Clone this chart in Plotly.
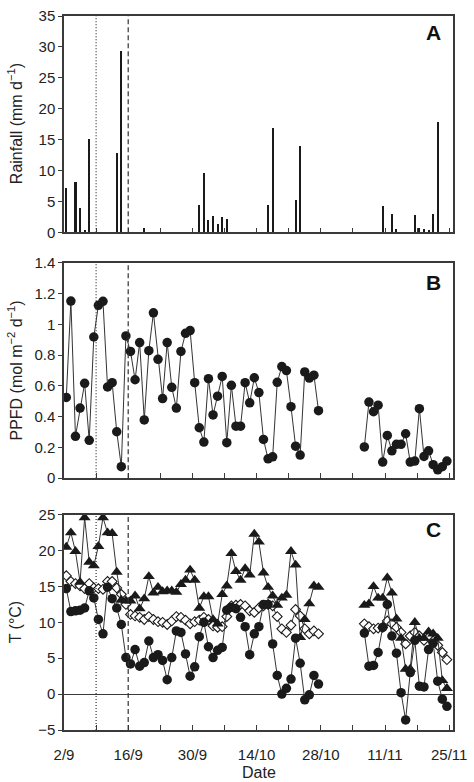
import plotly.graph_objects as go

# ---------------- data ----------------
# day index: 0 = 2 September ... 84 = 25 November
tick_days = [0, 14, 28, 42, 56, 70, 84]
tick_labels = ["2/9", "16/9", "30/9", "14/10", "28/10", "11/11", "25/11"]
event_days = [7, 14]          # dotted, dashed reference dates

rain_days = [0, 2, 3, 4, 5, 11, 12, 17, 29, 30, 31, 32, 33, 34, 35,
             44, 45, 50, 51, 69, 71, 72, 76, 77, 78, 79, 80, 81]
rain_mm = [7.2, 8.1, 3.9, 0.4, 15.1, 12.9, 29.3, 0.7, 4.4, 9.6, 2.0, 2.7, 1.4, 2.5, 2.2,
           4.4, 16.8, 5.3, 13.9, 4.2, 3.0, 0.6, 2.8, 0.7, 0.6, 0.4, 3.0, 17.8]

ppfd_1 = [0.525, 1.152, 0.272, 0.456, 0.617, 0.246, 0.918, 1.124, 1.15, 0.593,
          0.621, 0.302, 0.075, 0.925, 0.824, 0.640, 0.882, 0.379, 0.829, 1.075,
          0.773, 0.518, 0.882, 0.591, 0.456, 0.824, 0.942, 0.960, 0.621, 0.328,
          0.235, 0.647, 0.411, 0.533, 0.662, 0.231, 0.604, 0.338, 0.338, 0.621,
          0.490, 0.653, 0.557, 0.252, 0.126, 0.139, 0.623, 0.726, 0.700, 0.465,
          0.208, 0.150, 0.691, 0.651, 0.670, 0.439]
ppfd_2 = [0.203, 0.495, 0.432, 0.475, 0.105, 0.278, 0.178, 0.220, 0.220, 0.289,
          0.105, 0.111, 0.452, 0.141, 0.178, 0.088, 0.054, 0.075, 0.111]

tmax_1 = [20.5, 22.5, 19.9, 15.6, 24.6, 18.4, 17.9, 20.6, 24.6, 22.5,
          22.4, 17.0, 13.1, 13.0, 13.0, 13.7, 11.9, 13.3, 16.4, 14.1,
          14.9, 14.3, 14.4, 14.4, 14.2, 15.3, 15.9, 17.3, 15.9, 12.0,
          13.6, 13.6, 10.4, 9.8, 13.9, 15.1, 19.6, 17.1, 15.9, 17.5,
          16.6, 22.3, 21.2, 16.9, 14.9, 13.7, 12.4, 13.4, 13.8, 19.9,
          18.0, 7.9, 10.4, 12.6, 15.1, 14.9]
tmax_2 = [12.4, 12.6, 15.0, 13.4, 13.4, 16.2, 14.1, 10.5, 7.8, 3.5,
          3.5, 10.0, 7.8, 7.8, 8.7, 8.4, 7.8, 1.9, 0.8]

tmin_1 = [14.7, 11.5, 11.6, 11.7, 12.0, 14.4, 13.4, 10.4, 8.4, 14.9,
          13.3, 12.0, 9.7, 5.1, 4.2, 6.2, 3.9, 4.4, 7.4, 5.1,
          5.5, 4.7, 2.0, 5.1, 8.8, 8.6, 5.6, 2.5, 3.8, 8.0,
          10.0, 6.6, 5.1, 6.1, 6.5, 11.7, 12.1, 11.9, 10.7, 9.4,
          5.5, 8.4, 9.4, 12.5, 12.5, 7.0, 2.6, 0.0, 0.8, 2.1,
          7.8, 4.3, -0.8, -0.1, 2.6, 1.4]
tmin_2 = [8.5, 3.9, 4.0, 5.8, 9.3, 12.5, 8.1, 5.7, 0.2, -3.6,
          3.0, 7.5, 1.1, 1.0, 6.2, 7.1, 1.8, -0.7, -1.7]

tsoil_1 = [16.5, 15.7, 15.4, 15.1, 14.7, 15.4, 14.8, 14.7, 14.6, 15.7,
           15.7, 14.8, 13.9, 12.5, 11.1, 10.9, 10.7, 10.4, 10.8, 10.4,
           10.1, 10.0, 9.7, 10.2, 10.8, 10.7, 10.3, 9.8, 10.1, 10.3,
           10.7, 10.4, 9.5, 9.3, 9.4, 10.8, 12.3, 12.4, 12.5, 12.3,
           11.6, 11.4, 12.0, 12.3, 12.5, 12.3, 10.8, 9.1, 8.6, 9.6,
           11.8, 10.9, 9.1, 8.4, 8.8, 8.4]
tsoil_2 = [9.8, 9.4, 9.1, 9.2, 9.3, 10.2, 9.8, 9.3, 8.6, 7.0,
           8.1, 8.6, 8.1, 7.5, 7.9, 7.4, 6.8, 5.8, 4.8]

GAP = 9  # days without records (56-64)


def full(a, b):
    return a + [None] * GAP + b


n_days = len(ppfd_1) + GAP + len(ppfd_2)
x_mid = [d + 0.5 for d in range(n_days)]      # daily values at mid-day
rain_x = [d + 0.5 for d in rain_days]

# ---------------- styling ----------------
FONT = "Arial, Liberation Sans, sans-serif"
INK = "#1a1a1a"
AX = "#3a3a3a"
L, R, T, B = 64, 13, 7, 52
W, H = 474, 782
PH = H - T - B
TICK_FONT = dict(size=15, color="#222", family=FONT)


def dom(top_px, bot_px):
    return [1 - (bot_px - T) / PH, 1 - (top_px - T) / PH]


fig = go.Figure()

fig.add_trace(go.Bar(x=rain_x, y=rain_mm, width=0.45, marker=dict(color=INK, line=dict(width=0)),
                     xaxis="x", yaxis="y", showlegend=False))

line_style = dict(color="#333333", width=1)
fig.add_trace(go.Scatter(x=x_mid, y=full(ppfd_1, ppfd_2), mode="lines+markers",
                         line=line_style, marker=dict(symbol="circle", size=9.5, color=INK),
                         xaxis="x2", yaxis="y2", showlegend=False))

fig.add_trace(go.Scatter(x=x_mid, y=full(tsoil_1, tsoil_2), mode="lines+markers",
                         line=line_style,
                         marker=dict(symbol="diamond", size=7.5, color="white", line=dict(color=INK, width=1.1)),
                         xaxis="x3", yaxis="y3", showlegend=False))
fig.add_trace(go.Scatter(x=x_mid, y=full(tmax_1, tmax_2), mode="lines+markers",
                         line=line_style, marker=dict(symbol="triangle-up", size=10.5, color=INK),
                         xaxis="x3", yaxis="y3", showlegend=False))
fig.add_trace(go.Scatter(x=x_mid, y=full(tmin_1, tmin_2), mode="lines+markers",
                         line=line_style, marker=dict(symbol="circle", size=9.5, color=INK),
                         xaxis="x3", yaxis="y3", showlegend=False))

xr = [0, (W - R - L) / 4.68]
week_ticks = dict(tick0=0, dtick=7, ticks="inside", ticklen=5, tickwidth=1.2, tickcolor=AX, showgrid=False)
xt = dict(range=xr, tickvals=tick_days, ticks="inside", ticklen=5, tickwidth=1.2, tickcolor=AX,
          minor=week_ticks,
          showline=True, mirror=True, linecolor=AX, linewidth=1.5, showgrid=False, zeroline=False,
          fixedrange=True)
yt = dict(ticks="outside", ticklen=4, tickwidth=1.2, tickcolor=AX, showline=True, mirror=True,
          linecolor=AX, linewidth=1.5, showgrid=False, tickfont=TICK_FONT)

fig.update_layout(
    width=W, height=H, margin=dict(l=L, r=R, t=T, b=B),
    paper_bgcolor="white", plot_bgcolor="white",
    font=dict(family=FONT, color="#222"),
    bargap=0,
    xaxis=dict(xt, anchor="y", showticklabels=False),
    xaxis2=dict(xt, anchor="y2", showticklabels=False),
    xaxis3=dict(xt, anchor="y3", ticktext=tick_labels, showticklabels=True,
                tickfont=TICK_FONT, ticklabelstandoff=10, ticklabeloverflow="allow"),
    yaxis=dict(yt, domain=dom(7, 226), range=[0, 35], dtick=5, zeroline=False, anchor="x"),
    yaxis2=dict(yt, domain=dom(257, 475), range=[0, 1.4], dtick=0.2, zeroline=False, anchor="x2"),
    yaxis3=dict(yt, domain=dom(512, 730), range=[-5, 25], dtick=5, zeroline=True,
                zerolinecolor=AX, zerolinewidth=1.2, anchor="x3"),
)

shapes = []
for xa, ya in (("x", "y"), ("x2", "y2"), ("x3", "y3")):
    for d, dash in zip(event_days, ["1px,2px", "5px,3px"]):
        shapes.append(dict(type="line", xref=xa, yref=ya + " domain", x0=d, x1=d, y0=0, y1=1,
                           line=dict(color="#333", width=1.2, dash=dash)))
fig.update_layout(shapes=shapes)

ann = []
for ya, letter, yy in (("y", "A", 0.922), ("y2", "B", 0.91), ("y3", "C", 0.931)):
    xa = "x" if ya == "y" else "x" + ya[1:]
    ann.append(dict(text="<b>%s</b>" % letter, xref=xa + " domain", yref=ya + " domain",
                    x=0.95, y=yy, xanchor="center", yanchor="middle", showarrow=False,
                    font=dict(size=21, color="#111", family=FONT)))

titles = [("Rainfall (mm d<sup>−1</sup>)", "y"),
          ("PPFD (mol m<sup>−2</sup> d<sup>−1</sup>)", "y2"),
          ("T (°C)", "y3")]
for txt, ya in titles:
    xa = "x" if ya == "y" else "x" + ya[1:]
    ann.append(dict(text=txt, xref=xa + " domain", yref=ya + " domain",
                    x=(14 - L) / (W - L - R), y=0.5, xanchor="center", yanchor="middle",
                    textangle=-90, showarrow=False, font=dict(size=16, color="#222", family=FONT)))

ann.append(dict(text="Date", xref="x3 domain", yref="paper", x=0.5, y=-(773 - (H - B)) / PH,
                xanchor="center", yanchor="middle", showarrow=False,
                font=dict(size=16, color="#222", family=FONT)))
fig.update_layout(annotations=ann)

fig.write_html("out.html", config={"displayModeBar": False},
               post_script="document.body.style.margin='0';document.body.style.overflow='hidden';")
